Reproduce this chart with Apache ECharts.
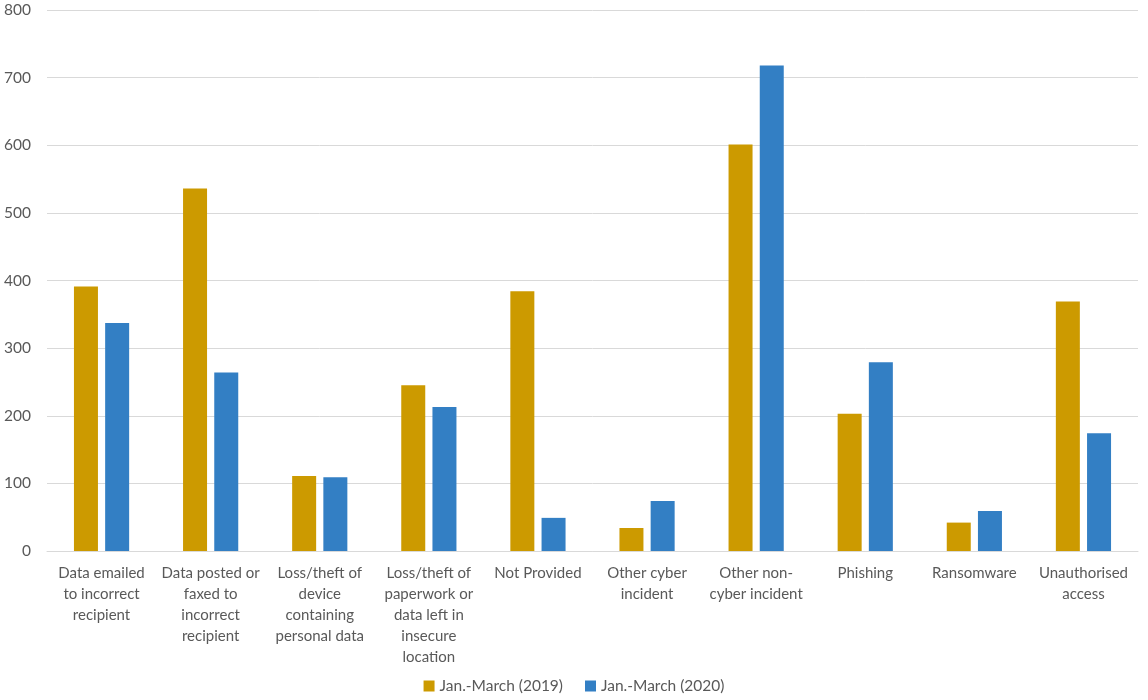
<!DOCTYPE html>
<html>
<head>
<meta charset="utf-8">
<script src="https://cdn.jsdelivr.net/npm/echarts@6/dist/echarts.min.js"></script>
<style>
html,body{margin:0;padding:0;background:#fff;}
#chart{width:1148px;height:700px;}
</style>
</head>
<body>
<div id="chart"></div>
<script>
const categories = [
  "Data emailed\nto incorrect\nrecipient",
  "Data posted or\nfaxed to\nincorrect\nrecipient",
  "Loss/theft of\ndevice\ncontaining\npersonal data",
  "Loss/theft of\npaperwork or\ndata left in\ninsecure\nlocation",
  "Not Provided",
  "Other cyber\nincident",
  "Other non-\ncyber incident",
  "Phishing",
  "Ransomware",
  "Unauthorised\naccess"
];
const seriesNames = ["Jan.-March (2019)", "Jan.-March (2020)"];
const values2019 = [391, 536, 111, 245, 384, 34, 601, 203, 42, 369];
const values2020 = [337, 264, 109, 213, 49, 74, 718, 279, 59, 174];
const yTicks = [0, 100, 200, 300, 400, 500, 600, 700, 800];

const chart = echarts.init(document.getElementById('chart'));
const font = 'Lato, "Open Sans", sans-serif';
chart.setOption({
  animation: false,
  textStyle: { fontFamily: font },
  color: ['#CC9A00', '#337FC4'],
  legend: {
    bottom: 1,
    left: 'center',
    itemWidth: 11,
    itemHeight: 11,
    itemGap: 22,
    icon: 'rect',
    textStyle: { fontSize: 15.5, color: '#595959', fontFamily: font },
    data: seriesNames
  },
  grid: { left: 47, right: 10, top: 10, bottom: 149, containLabel: false },
  xAxis: {
    type: 'category',
    data: categories,
    axisLine: { lineStyle: { color: '#D9D9D9', width: 1 } },
    axisTick: { show: false },
    axisLabel: {
      interval: 0,
      color: '#595959',
      fontSize: 15,
      lineHeight: 21,
      margin: 12,
      fontFamily: font
    }
  },
  yAxis: {
    type: 'value',
    min: yTicks[0],
    max: yTicks[yTicks.length - 1],
    interval: 100,
    axisLine: { show: false },
    axisTick: { show: false },
    splitLine: { lineStyle: { color: '#D9D9D9', width: 1 } },
    axisLabel: { color: '#595959', fontSize: 15.5, margin: 16, fontFamily: font }
  },
  series: [
    { name: seriesNames[0], type: 'bar', data: values2019, barWidth: 24, barGap: '30%' },
    { name: seriesNames[1], type: 'bar', data: values2020, barWidth: 24, barGap: '30%' }
  ]
});
</script>
</body>
</html>
